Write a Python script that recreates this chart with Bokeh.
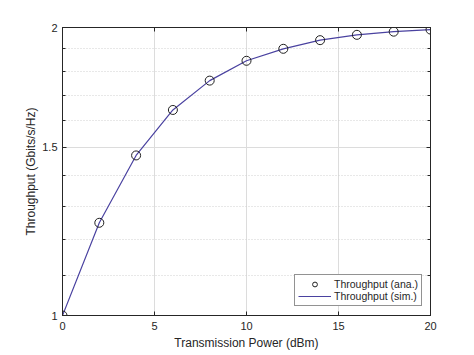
from bokeh.plotting import figure
from bokeh.models import FixedTicker, LinearAxis, LogAxis, Range1d, Legend, LegendItem
from bokeh.embed import file_html
from bokeh.resources import INLINE

power_dbm = [0, 2, 4, 6, 8, 10, 12, 14, 16, 18, 20]
throughput_ana = [1.0, 1.25, 1.47, 1.64, 1.76, 1.846, 1.90, 1.94, 1.965, 1.98, 1.99]
throughput_sim = [1.0, 1.25, 1.47, 1.64, 1.76, 1.846, 1.90, 1.94, 1.965, 1.98, 1.99]
x_ticks = [0, 5, 10, 15, 20]
y_ticks = [1, 1.5, 2]
y_minor = [1.1, 1.2, 1.3, 1.4, 1.6, 1.7, 1.8, 1.9]

FONT = "Liberation Sans"
TXT = "#262626"

p = figure(width=474, height=355, output_backend="svg", toolbar_location=None,
           y_axis_type="log", x_range=Range1d(0, 20), y_range=Range1d(1, 2),
           min_border_left=62, min_border_right=44, min_border_top=27, min_border_bottom=40)
p.outline_line_color = TXT
p.outline_line_width = 1
p.background_fill_color = "white"
p.border_fill_color = "white"

line_r = p.line(power_dbm, throughput_sim, line_color="#4a42a0", line_width=1.2)
circ_r = p.scatter(power_dbm, throughput_ana, marker="circle", size=9,
                   fill_color=None, line_color="#202020", line_width=1)

xt = FixedTicker(ticks=x_ticks)
yt = FixedTicker(ticks=y_ticks, minor_ticks=y_minor)

for ax in p.xaxis:
    ax.ticker = xt
for ax in p.yaxis:
    ax.ticker = yt
    ax.major_label_overrides = {1: "1", 1.5: "1.5", 2: "2"}

def style_axis(ax, labels=True):
    ax.axis_line_color = TXT
    ax.major_tick_in = 4
    ax.major_tick_out = 0
    ax.minor_tick_in = 3
    ax.minor_tick_out = 0
    ax.major_tick_line_color = TXT
    ax.minor_tick_line_color = TXT
    ax.major_label_text_font = FONT
    ax.major_label_text_font_size = "11px"
    ax.major_label_text_color = TXT
    ax.axis_label_text_font = FONT
    ax.axis_label_text_font_size = "12px"
    ax.axis_label_text_font_style = "normal"
    ax.axis_label_text_color = TXT
    if not labels:
        ax.major_label_text_font_size = "0px"
        ax.major_label_text_alpha = 0

style_axis(p.xaxis[0])
style_axis(p.yaxis[0])
p.xaxis[0].axis_label = "Transmission Power (dBm)"
p.yaxis[0].axis_label = "Throughput (Gbits/s/Hz)"
p.xaxis[0].major_label_standoff = 6
p.xaxis[0].axis_label_standoff = 3
p.yaxis[0].major_label_standoff = 5
p.yaxis[0].axis_label_standoff = 1

top_ax = LinearAxis(ticker=FixedTicker(ticks=x_ticks))
style_axis(top_ax, labels=False)
top_ax.major_label_standoff = 0
p.add_layout(top_ax, "above")

right_ax = LogAxis(ticker=FixedTicker(ticks=y_ticks, minor_ticks=y_minor))
style_axis(right_ax, labels=False)
right_ax.major_label_standoff = 0
p.add_layout(right_ax, "right")

p.xgrid.ticker = xt
p.xgrid.grid_line_color = "#dcdcdc"
p.xgrid.grid_line_width = 1
p.ygrid.ticker = yt
p.ygrid.grid_line_color = "#dcdcdc"
p.ygrid.minor_grid_line_color = "#d0d0d0"
p.ygrid.minor_grid_line_dash = "1 2"

legend = Legend(items=[LegendItem(label="Throughput (ana.)", renderers=[circ_r]),
                       LegendItem(label="Throughput (sim.)", renderers=[line_r])],
                location=(232, 9))
legend.border_line_color = TXT
legend.border_line_width = 1
legend.background_fill_alpha = 1
legend.label_text_font = FONT
legend.label_text_font_size = "10.5px"
legend.label_text_color = TXT
legend.glyph_width = 33
legend.glyph_height = 12
legend.label_height = 12
legend.label_standoff = 3
legend.spacing = 0
legend.padding = 3
legend.margin = 0
p.add_layout(legend, "center")

open("out.html", "w").write(file_html(p, INLINE))
